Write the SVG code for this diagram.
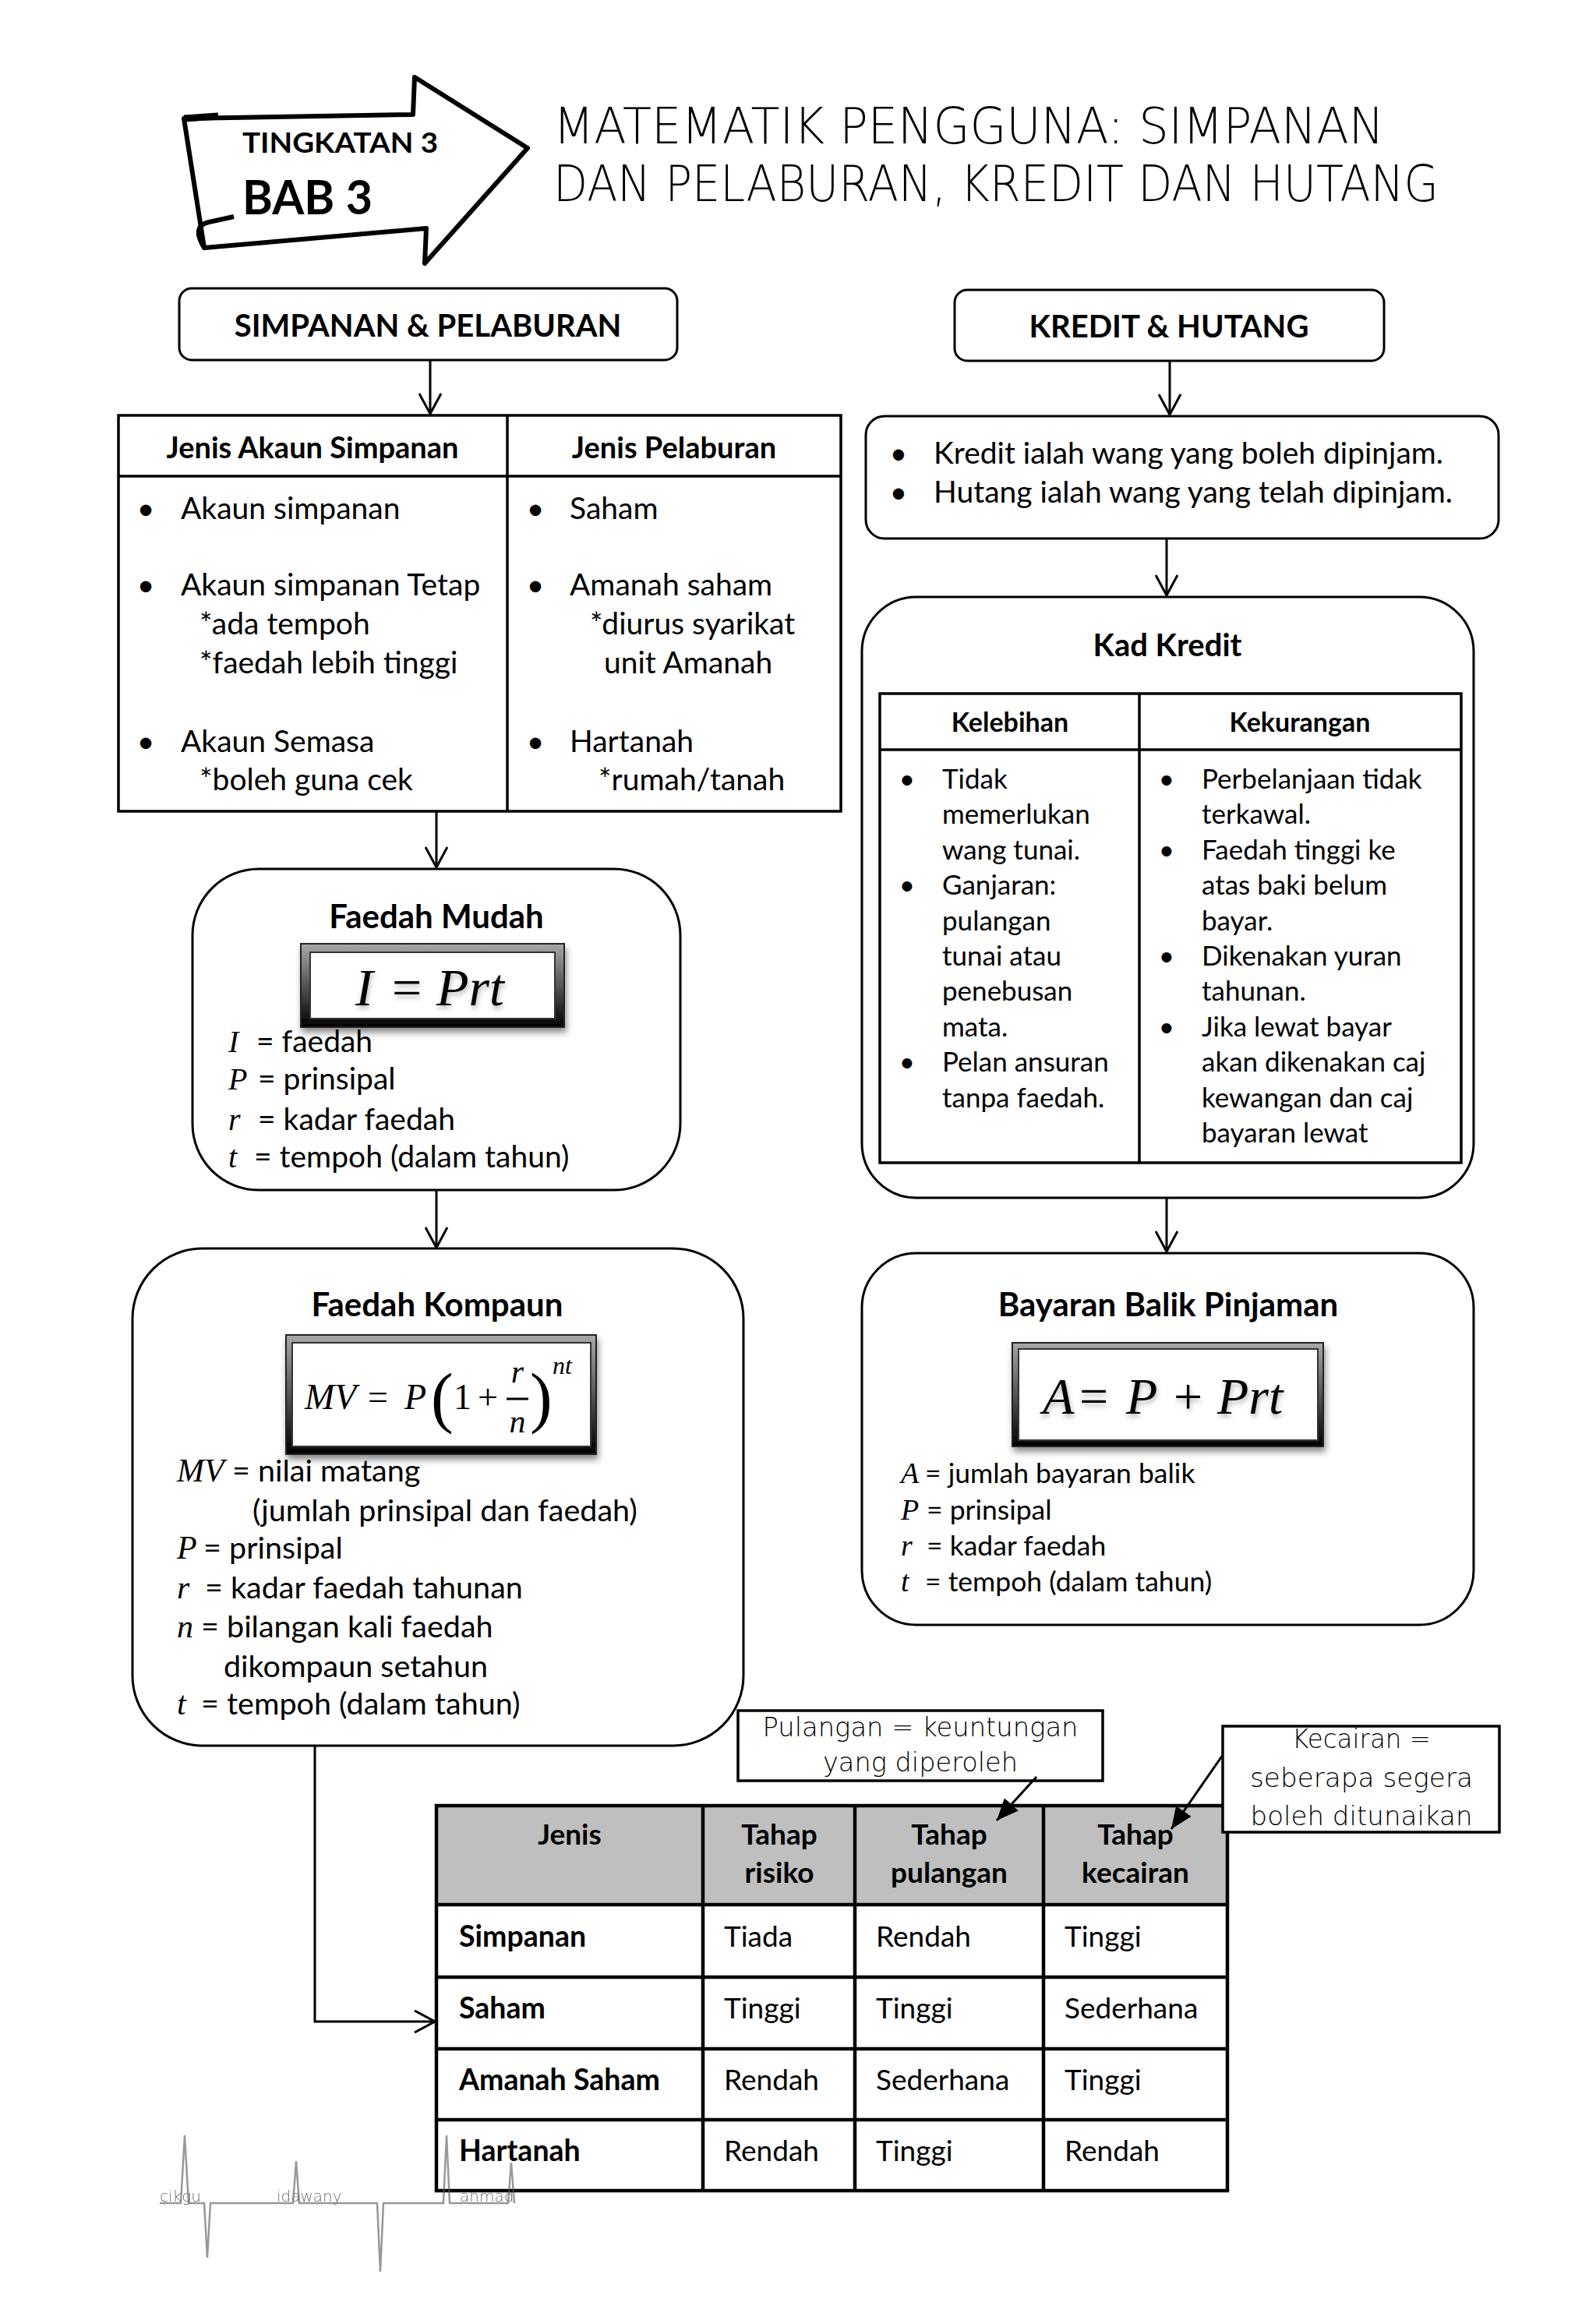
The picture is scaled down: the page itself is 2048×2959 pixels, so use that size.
<svg xmlns="http://www.w3.org/2000/svg" width="2048" height="2959" viewBox="0 0 2048 2959">
<style>
.b{font-family:Lato,"Liberation Sans",sans-serif;font-weight:700;fill:#000}
.r{font-family:Lato,"Liberation Sans",sans-serif;font-weight:400;fill:#000}
.m{font-family:"Liberation Serif",serif;font-style:italic;fill:#000}
.mu{font-family:"Liberation Serif",serif;font-style:normal;fill:#000}
.hw{font-family:"DejaVu Sans",sans-serif;font-weight:200;fill:#000}
.box{fill:#fff;stroke:#000;stroke-width:3}
.tl{stroke:#000;stroke-width:3.5;fill:none}
.tb{stroke:#000;stroke-width:4.5;fill:none}
.ln{stroke:#000;stroke-width:3;fill:none}
.mid{text-anchor:middle}
</style>
<defs>
<marker id="av" viewBox="0 0 28 30" refX="27" refY="15" markerWidth="28" markerHeight="30" markerUnits="userSpaceOnUse" orient="auto">
<path d="M1,1 L27,15 L1,29" fill="none" stroke="#000" stroke-width="3"/>
</marker>
<marker id="af" viewBox="0 0 28 24" refX="28" refY="12" markerWidth="28" markerHeight="24" markerUnits="userSpaceOnUse" orient="auto">
<path d="M0,0 L28,12 L0,24 Z" fill="#000"/>
</marker>
<linearGradient id="bev" x1="0" y1="0" x2="0" y2="1">
<stop offset="0" stop-color="#a8a8a8"/>
<stop offset="0.5" stop-color="#555"/>
<stop offset="1" stop-color="#000"/>
</linearGradient>
<filter id="sh" x="-10%" y="-10%" width="130%" height="140%">
<feDropShadow dx="2" dy="6" stdDeviation="4" flood-color="#000" flood-opacity="0.45"/>
</filter>
<filter id="tsh" x="-10%" y="-10%" width="130%" height="140%">
<feDropShadow dx="1" dy="4" stdDeviation="3" flood-color="#000" flood-opacity="0.3"/>
</filter>
</defs>
<rect width="2048" height="2959" fill="#fff"/>

<!-- Header -->
<g id="header">
<path d="M236,152 L530,147 L532,99 L677,190 L545,338 L547,293 L262,318 Z" fill="#fff" stroke="#000" stroke-width="6" stroke-linejoin="round"/>
<path d="M262,318 Q245,290 268,285 L300,278" fill="none" stroke="#000" stroke-width="6"/>
<path d="M236,152 L280,149" fill="none" stroke="#000" stroke-width="9"/>
<text class="b" x="311" y="196" font-size="36" textLength="251" lengthAdjust="spacingAndGlyphs">TINGKATAN 3</text>
<text class="b" x="311" y="275" font-size="62" textLength="167" lengthAdjust="spacingAndGlyphs">BAB 3</text>
<text class="hw" x="710" y="184" font-size="64" textLength="1066" lengthAdjust="spacingAndGlyphs">MATEMATIK PENGGUNA: SIMPANAN</text>
<text class="hw" x="710" y="258" font-size="64" textLength="1136" lengthAdjust="spacingAndGlyphs">DAN PELABURAN, KREDIT DAN HUTANG</text>
</g>

<!-- Simpanan & Pelaburan -->
<g id="simpanan-pelaburan">
<rect class="box" x="230" y="370" width="639" height="92" rx="16"/>
<text class="b mid" x="549" y="432" font-size="40">SIMPANAN &amp; PELABURAN</text>
</g>

<g id="jenis-table">
<rect class="tl" x="152" y="533" width="927" height="508" fill="#fff"/>
<line class="tl" x1="152" y1="611" x2="1079" y2="611"/>
<line class="tl" x1="651" y1="533" x2="651" y2="1041"/>
<text class="b mid" x="401" y="588" font-size="38">Jenis Akaun Simpanan</text>
<text class="b mid" x="865" y="588" font-size="38">Jenis Pelaburan</text>
<g class="r" font-size="39">
<text x="187" y="666" text-anchor="middle">•</text>
<text x="232" y="666">Akaun simpanan</text>
<text x="187" y="764" text-anchor="middle">•</text>
<text x="232" y="764">Akaun simpanan Tetap</text>
<text x="256" y="814">*ada tempoh</text>
<text x="256" y="864">*faedah lebih tinggi</text>
<text x="187" y="965" text-anchor="middle">•</text>
<text x="232" y="965">Akaun Semasa</text>
<text x="256" y="1014">*boleh guna cek</text>
<text x="687" y="666" text-anchor="middle">•</text>
<text x="731" y="666">Saham</text>
<text x="687" y="764" text-anchor="middle">•</text>
<text x="731" y="764">Amanah saham</text>
<text x="757" y="814">*diurus syarikat</text>
<text x="775" y="864">unit Amanah</text>
<text x="687" y="965" text-anchor="middle">•</text>
<text x="731" y="965">Hartanah</text>
<text x="768" y="1014">*rumah/tanah</text>
</g>
</g>

<!-- Faedah Mudah -->
<g id="faedah-mudah">
<rect class="box" x="247" y="1115" width="626" height="412" rx="85"/>
<text class="b mid" x="560" y="1191" font-size="42">Faedah Mudah</text>
<rect x="386" y="1211" width="338" height="107" fill="url(#bev)" stroke="#222" stroke-width="2" filter="url(#sh)"/>
<rect x="398" y="1222" width="314" height="85" fill="#fff" stroke="#333" stroke-width="2"/>
<text font-size="68" y="1290" filter="url(#tsh)"><tspan class="m" x="456">I</tspan><tspan class="mu" x="503">=</tspan><tspan class="m" x="560">Prt</tspan></text>
<g font-size="40">
<text class="m" x="293" y="1350">I</text><text class="r" x="329" y="1350" font-size="39">= faedah</text>
<text class="m" x="293" y="1398">P</text><text class="r" x="331" y="1398" font-size="39">= prinsipal</text>
<text class="m" x="293" y="1450">r</text><text class="r" x="331" y="1450" font-size="39">= kadar faedah</text>
<text class="m" x="293" y="1498">t</text><text class="r" x="326" y="1498" font-size="39">= tempoh (dalam tahun)</text>
</g>
</g>

<!-- Faedah Kompaun -->
<g id="faedah-kompaun">
<rect class="box" x="170" y="1602" width="784" height="638" rx="90"/>
<text class="b mid" x="561" y="1689" font-size="42">Faedah Kompaun</text>
<rect x="367" y="1713" width="398" height="153" fill="url(#bev)" stroke="#222" stroke-width="2" filter="url(#sh)"/>
<rect x="375" y="1723" width="383" height="133" fill="#fff" stroke="#333" stroke-width="2"/>
<text class="m" x="391" y="1808" font-size="46">MV</text>
<text class="mu" x="472" y="1808" font-size="46">=</text>
<text class="m" x="519" y="1808" font-size="46">P</text>
<text class="mu" x="553" y="1822" font-size="86">(</text>
<text class="mu" x="582" y="1808" font-size="46">1</text>
<text class="mu" x="613" y="1808" font-size="46">+</text>
<text class="m mid" x="664" y="1774" font-size="42">r</text>
<line x1="650" y1="1795" x2="678" y2="1795" stroke="#000" stroke-width="3"/>
<text class="m mid" x="664" y="1838" font-size="42">n</text>
<text class="mu" x="680" y="1822" font-size="86">)</text>
<text class="m" x="709" y="1763" font-size="32">nt</text>
<g font-size="42">
<text class="m" x="227" y="1901">MV</text><text class="r" x="298" y="1901" font-size="39.5">= nilai matang</text>
<text class="r" x="324" y="1952" font-size="39.5">(jumlah prinsipal dan faedah)</text>
<text class="m" x="227" y="2000">P</text><text class="r" x="261" y="2000" font-size="39.5">= prinsipal</text>
<text class="m" x="227" y="2051">r</text><text class="r" x="263" y="2051" font-size="39.5">= kadar faedah tahunan</text>
<text class="m" x="227" y="2101">n</text><text class="r" x="258" y="2101" font-size="39.5">= bilangan kali faedah</text>
<text class="r" x="287" y="2152" font-size="39.5">dikompaun setahun</text>
<text class="m" x="227" y="2200">t</text><text class="r" x="258" y="2200" font-size="39.5">= tempoh (dalam tahun)</text>
</g>
</g>

<!-- Kredit & Hutang -->
<g id="kredit-hutang">
<rect class="box" x="1225" y="372" width="551" height="91" rx="16"/>
<text class="b mid" x="1500" y="433" font-size="40">KREDIT &amp; HUTANG</text>
</g>

<g id="definisi">
<rect class="box" x="1111" y="534" width="812" height="157" rx="24"/>
<g class="r" font-size="38.5">
<text x="1153" y="595" text-anchor="middle">•</text>
<text x="1198" y="595" textLength="654" lengthAdjust="spacingAndGlyphs">Kredit ialah wang yang boleh dipinjam.</text>
<text x="1153" y="645" text-anchor="middle">•</text>
<text x="1198" y="645" textLength="666" lengthAdjust="spacingAndGlyphs">Hutang ialah wang yang telah dipinjam.</text>
</g>
</g>

<!-- Kad Kredit -->
<g id="kad-kredit">
<rect class="box" x="1106" y="766" width="785" height="771" rx="70"/>
<text class="b mid" x="1498" y="842" font-size="40">Kad Kredit</text>
<rect class="tl" x="1129" y="890" width="746" height="602"/>
<line class="tl" x1="1129" y1="962" x2="1875" y2="962"/>
<line class="tl" x1="1462" y1="890" x2="1462" y2="1492"/>
<text class="b mid" x="1296" y="939" font-size="34">Kelebihan</text>
<text class="b mid" x="1668" y="939" font-size="34">Kekurangan</text>
<g class="r" font-size="35">
<text x="1164" y="1012" text-anchor="middle">•</text>
<text x="1209" y="1012">Tidak</text>
<text x="1209" y="1057">memerlukan</text>
<text x="1209" y="1103">wang tunai.</text>
<text x="1164" y="1148" text-anchor="middle">•</text>
<text x="1209" y="1148">Ganjaran:</text>
<text x="1209" y="1194">pulangan</text>
<text x="1209" y="1239">tunai atau</text>
<text x="1209" y="1284">penebusan</text>
<text x="1209" y="1330">mata.</text>
<text x="1164" y="1375" text-anchor="middle">•</text>
<text x="1209" y="1375">Pelan ansuran</text>
<text x="1209" y="1421">tanpa faedah.</text>
<text x="1497" y="1012" text-anchor="middle">•</text>
<text x="1542" y="1012">Perbelanjaan tidak</text>
<text x="1542" y="1057">terkawal.</text>
<text x="1497" y="1103" text-anchor="middle">•</text>
<text x="1542" y="1103">Faedah tinggi ke</text>
<text x="1542" y="1148">atas baki belum</text>
<text x="1542" y="1194">bayar.</text>
<text x="1497" y="1239" text-anchor="middle">•</text>
<text x="1542" y="1239">Dikenakan yuran</text>
<text x="1542" y="1284">tahunan.</text>
<text x="1497" y="1330" text-anchor="middle">•</text>
<text x="1542" y="1330">Jika lewat bayar</text>
<text x="1542" y="1375">akan dikenakan caj</text>
<text x="1542" y="1421">kewangan dan caj</text>
<text x="1542" y="1466">bayaran lewat</text>
</g>
</g>

<!-- Bayaran Balik Pinjaman -->
<g id="bayaran-balik">
<rect class="box" x="1106" y="1608" width="785" height="477" rx="70"/>
<text class="b mid" x="1499" y="1689" font-size="42">Bayaran Balik Pinjaman</text>
<rect x="1299" y="1723" width="399" height="133" fill="url(#bev)" stroke="#222" stroke-width="2" filter="url(#sh)"/>
<rect x="1307" y="1731" width="384" height="117" fill="#fff" stroke="#333" stroke-width="2"/>
<text font-size="66" y="1814" filter="url(#tsh)"><tspan class="m" x="1338">A</tspan><tspan class="mu" x="1385">=</tspan><tspan class="m" x="1445">P</tspan><tspan class="mu" x="1506">+</tspan><tspan class="m" x="1562">Prt</tspan></text>
<g font-size="38">
<text class="m" x="1156" y="1903">A</text><text class="r" x="1187" y="1903" font-size="35.5">= jumlah bayaran balik</text>
<text class="m" x="1156" y="1950">P</text><text class="r" x="1189" y="1950" font-size="35.5">= prinsipal</text>
<text class="m" x="1156" y="1996">r</text><text class="r" x="1189" y="1996" font-size="35.5">= kadar faedah</text>
<text class="m" x="1156" y="2042">t</text><text class="r" x="1187" y="2042" font-size="35.5">= tempoh (dalam tahun)</text>
</g>
</g>

<!-- Comparison table -->
<g id="perbandingan">
<rect x="560" y="2317" width="1015" height="127" fill="#bfbfbf"/>
<rect class="tb" x="560" y="2317" width="1015" height="494"/>
<line class="tb" x1="560" y1="2444" x2="1575" y2="2444"/>
<line class="tb" x1="560" y1="2537" x2="1575" y2="2537"/>
<line class="tb" x1="560" y1="2629" x2="1575" y2="2629"/>
<line class="tb" x1="560" y1="2720" x2="1575" y2="2720"/>
<line class="tb" x1="902" y1="2317" x2="902" y2="2811"/>
<line class="tb" x1="1097" y1="2317" x2="1097" y2="2811"/>
<line class="tb" x1="1339" y1="2317" x2="1339" y2="2811"/>
<g class="b mid" font-size="37">
<text x="731" y="2367">Jenis</text>
<text x="1000" y="2367">Tahap</text>
<text x="1000" y="2416">risiko</text>
<text x="1218" y="2367">Tahap</text>
<text x="1218" y="2416">pulangan</text>
<text x="1457" y="2367">Tahap</text>
<text x="1457" y="2416">kecairan</text>
</g>
<g class="b" font-size="37.5">
<text x="589" y="2498">Simpanan</text>
<text x="589" y="2590">Saham</text>
<text x="589" y="2682">Amanah Saham</text>
<text x="589" y="2773">Hartanah</text>
</g>
<g class="r" font-size="37">
<text x="929" y="2498">Tiada</text>
<text x="1124" y="2498">Rendah</text>
<text x="1366" y="2498">Tinggi</text>
<text x="929" y="2590">Tinggi</text>
<text x="1124" y="2590">Tinggi</text>
<text x="1366" y="2590">Sederhana</text>
<text x="929" y="2682">Rendah</text>
<text x="1124" y="2682">Sederhana</text>
<text x="1366" y="2682">Tinggi</text>
<text x="929" y="2773">Rendah</text>
<text x="1124" y="2773">Tinggi</text>
<text x="1366" y="2773">Rendah</text>
</g>
</g>

<!-- Callouts -->
<g id="callout-pulangan">
<rect x="947" y="2195" width="468" height="90" fill="#fff" stroke="#000" stroke-width="3.5"/>
<text class="hw mid" x="1181" y="2228" font-size="34" textLength="405" lengthAdjust="spacingAndGlyphs">Pulangan = keuntungan</text>
<text class="hw mid" x="1181" y="2273" font-size="34" textLength="250" lengthAdjust="spacingAndGlyphs">yang diperoleh</text>
</g>
<g id="callout-kecairan">
<rect x="1569" y="2215" width="355" height="136" fill="#fff" stroke="#000" stroke-width="3.5"/>
<text class="hw mid" x="1747" y="2243" font-size="34" textLength="178" lengthAdjust="spacingAndGlyphs">Kecairan =</text>
<text class="hw mid" x="1747" y="2293" font-size="34" textLength="286" lengthAdjust="spacingAndGlyphs">seberapa segera</text>
<text class="hw mid" x="1747" y="2342" font-size="34" textLength="285" lengthAdjust="spacingAndGlyphs">boleh ditunaikan</text>
</g>

<!-- Connectors -->
<g id="connectors">
<line class="ln" x1="552" y1="462" x2="552" y2="531" marker-end="url(#av)"/>
<line class="ln" x1="1501" y1="463" x2="1501" y2="532" marker-end="url(#av)"/>
<line class="ln" x1="560" y1="1041" x2="560" y2="1113" marker-end="url(#av)"/>
<line class="ln" x1="1497" y1="691" x2="1497" y2="764" marker-end="url(#av)"/>
<line class="ln" x1="560" y1="1527" x2="560" y2="1601" marker-end="url(#av)"/>
<line class="ln" x1="1497" y1="1537" x2="1497" y2="1606" marker-end="url(#av)"/>
<polyline class="ln" points="404,2240 404,2594 558,2594" marker-end="url(#av)"/>
<line class="ln" x1="1330" y1="2280" x2="1279" y2="2336" marker-end="url(#af)"/>
<line class="ln" x1="1569" y1="2252" x2="1503" y2="2347" marker-end="url(#af)"/>
</g>

<!-- Signature -->
<g id="signature" opacity="0.6">
<path d="M205,2827 L232,2827 L237,2740 L242,2827 L262,2827 L266,2897 L270,2827 L376,2827 L380,2773 L384,2827 L484,2827 L488,2915 L492,2827 L569,2827 L573,2740 L577,2827 L652,2827 L656,2775 L660,2827" fill="none" stroke="#555" stroke-width="2.5"/>
<text class="hw" x="205" y="2825" font-size="20" fill="#555">cikgu</text>
<text class="hw" x="355" y="2825" font-size="20" fill="#555">idawany</text>
<text class="hw" x="590" y="2825" font-size="20" fill="#555">ahmad</text>
</g>
</svg>
